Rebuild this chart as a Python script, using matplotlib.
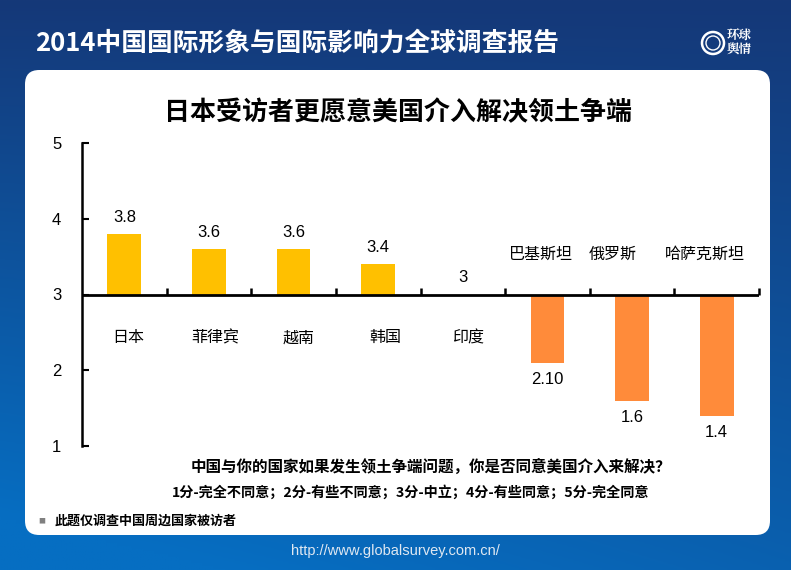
import numpy as np
import matplotlib
matplotlib.use("Agg")
import matplotlib.pyplot as plt
from matplotlib.patches import FancyBboxPatch, Ellipse

plt.rcParams['font.family'] = ['Noto Sans CJK SC', 'DejaVu Sans']

# data
countries = ["日本", "菲律宾", "越南", "韩国", "印度", "巴基斯坦", "俄罗斯", "哈萨克斯坦"]
scores = [3.8, 3.6, 3.6, 3.4, 3.0, 2.1, 1.6, 1.4]
score_labels = ["3.8", "3.6", "3.6", "3.4", "3", "2.10", "1.6", "1.4"]
y_ticks = [1, 2, 3, 4, 5]
neutral = 3

header = "2014中国国际形象与国际影响力全球调查报告"
title = "日本受访者更愿意美国介入解决领土争端"
question = "中国与你的国家如果发生领土争端问题，你是否同意美国介入来解决？"
scale_note = "1分-完全不同意；2分-有些不同意；3分-中立；4分-有些同意；5分-完全同意"
footnote = "此题仅调查中国周边国家被访者"
url = "http://www.globalsurvey.com.cn/"

# the slide's country labels are nudged a little off the bar centres (in px)
name_nudge_px = [4, 6, 5, 7, 5, -6, -19, -12]

W, H = 791, 570
fig = plt.figure(figsize=(W / 100, H / 100), dpi=100)

# background gradient + panel live in a full-figure axes below the chart
bg = fig.add_axes([0, 0, 1, 1], zorder=-5)
yy, xx = np.mgrid[0:1:200j, 0:1:280j]
t = np.clip(0.75 * yy + 0.35 * (1 - xx) * yy, 0, 1)
top = np.array([0x15, 0x38, 0x78]) / 255
bot = np.array([0x06, 0x6e, 0xc2]) / 255
img = top[None, None, :] * (1 - t[..., None]) + bot[None, None, :] * t[..., None]
bg.imshow(img, extent=[0, 1, 0, 1], aspect='auto', origin='upper')
bg.set_xlim(0, 1)
bg.set_ylim(0, 1)
bg.axis('off')

panel = FancyBboxPatch((25 / W, 1 - 535 / H), (770 - 25) / W, (535 - 70) / H,
                       boxstyle="round,pad=0,rounding_size=0.018",
                       facecolor='white', edgecolor='none', mutation_aspect=W / H)
bg.add_patch(panel)

bg.text(35 / W, 1 - 43 / H, header, color='white', fontsize=18.5, fontweight='bold',
        va='center', ha='left')

# logo
for r, lw in [(11, 1.8), (7, 1.0)]:
    bg.add_patch(Ellipse((713 / W, 1 - 43 / H), 2 * r / W, 2 * r / H,
                         facecolor='none', edgecolor='white', linewidth=lw))
bg.text(727 / W, 1 - 43 / H, "环球\n舆情", color='white', fontsize=9, fontweight='bold',
        va='center', ha='left', linespacing=1.0,
        family=['Noto Serif CJK SC', 'Noto Sans CJK SC'])

bg.text(398 / W, 1 - 113 / H, title, color='black', fontsize=18.7, fontweight='bold',
        ha='center', va='center')

# chart
ax_left, ax_right = 82, 759
ax = fig.add_axes([ax_left / W, 1 - 446 / H, (ax_right - ax_left) / W, (446 - 143) / H])
ax.patch.set_alpha(0)
x = np.arange(len(countries))
vals = np.array(scores)
colors = ['#FFC000' if v >= neutral else '#FF8B3A' for v in vals]
ax.bar(x, vals - neutral, bottom=neutral, width=0.4, color=colors, zorder=2)
ax.set_xlim(-0.5, len(countries) - 0.5)
ax.set_ylim(1, 5)
ax.set_yticks(y_ticks)
ax.set_yticklabels([str(v) for v in y_ticks], family=['Liberation Sans'], fontsize=12)
ax.tick_params(axis='y', direction='in', length=5, width=1.5, pad=15)
ax.set_xticks([])
for s in ['top', 'right', 'bottom']:
    ax.spines[s].set_visible(False)
ax.spines['left'].set_linewidth(1.8)
ax.axhline(neutral, color='black', linewidth=2, zorder=3)
bounds = np.arange(len(countries)) + 0.5
ax.vlines(bounds, neutral, neutral + 0.09, color='black', linewidth=1.8, zorder=3,
          clip_on=False)

px_per_cat = (ax_right - ax_left) / len(countries)
for xi, v, lab, name, nd in zip(x, vals, score_labels, countries, name_nudge_px):
    nx = xi + nd / px_per_cat
    if v >= neutral:
        ax.text(xi, v + 0.22, lab, ha='center', va='center', fontsize=12,
                family=['Liberation Sans'])
        ax.text(nx, neutral - 0.57, name, ha='center', va='center', fontsize=11.5,
                fontweight='medium')
    else:
        ax.text(xi, v - 0.22, lab, ha='center', va='center', fontsize=12,
                family=['Liberation Sans'])
        ax.text(nx, neutral + 0.53, name, ha='center', va='center', fontsize=11.5,
                fontweight='medium')

bg.text(431 / W, 1 - 467 / H, question, ha='center', va='center', fontsize=11.2,
        fontweight='bold')
bg.text(411 / W, 1 - 492 / H, scale_note, ha='center', va='center', fontsize=10.2,
        fontweight='bold')
bg.text(42 / W, 1 - 521 / H, "■", ha='center', va='center', fontsize=5, color='#808080')
bg.text(55 / W, 1 - 521 / H, footnote, ha='left', va='center', fontsize=9.4,
        fontweight='bold')
bg.text(395 / W, 1 - 551 / H, url, ha='center', va='center', fontsize=10.5,
        color='#dfe8f2', family=['Liberation Sans'])

fig.savefig("out.png", dpi=100)
